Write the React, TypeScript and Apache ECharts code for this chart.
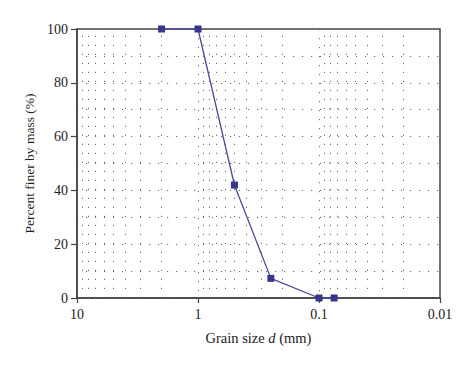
import React, { useEffect, useRef } from "react";
import * as echarts from "echarts";

const grainSize = [2, 1, 0.5, 0.25, 0.1, 0.075];
const percentFiner = [100, 100, 42, 7.3, 0, 0];
const xTickLabels = ["10", "1", "0.1", "0.01"];
const yTickLabels = ["0", "20", "40", "60", "80", "100"];
const minorGridX = [9, 8, 7, 6, 5, 4, 3, 2, 0.9, 0.8, 0.7, 0.6, 0.5, 0.4, 0.3, 0.2, 0.09, 0.08, 0.07, 0.06, 0.05, 0.04, 0.03, 0.02];

const FONT = "'Liberation Serif', 'DejaVu Serif', serif";

export default function App() {
  const ref = useRef<HTMLDivElement>(null);
  useEffect(() => {
    if (!ref.current) return;
    const chart = echarts.init(ref.current, null, { renderer: "svg" });
    const dotted = { color: "#6a6a6a", width: 1, type: [1.2, 7.8] as any };
    chart.setOption({
      animation: false,
      grid: {
        left: 77,
        right: 34,
        top: 29,
        bottom: 68,
        show: true,
        borderColor: "#444",
        borderWidth: 1.5,
        backgroundColor: "transparent",
      },
      xAxis: {
        type: "log",
        logBase: 10,
        min: 0.01,
        max: 10,
        inverse: true,
        name: "Grain size {i|d} (mm)",
        nameLocation: "middle",
        nameGap: 32,
        nameTextStyle: {
          fontFamily: FONT,
          fontSize: 14.5,
          color: "#222",
          rich: { i: { fontFamily: FONT, fontSize: 14.5, fontStyle: "italic", color: "#222" } },
        },
        axisLine: { show: true, lineStyle: { color: "#444", width: 1.5 } },
        axisTick: { show: true, inside: false, length: 5, lineStyle: { color: "#444", width: 1.2 } },
        axisLabel: {
          fontFamily: FONT,
          fontSize: 14,
          color: "#222",
          margin: 9,
          formatter: (v: number) => {
            const s = String(+v.toPrecision(3));
            return xTickLabels.includes(s) ? s : "";
          },
        },
        splitLine: { show: true, lineStyle: dotted },
        minorTick: { show: false },
      },
      yAxis: {
        type: "value",
        min: 0,
        max: 100,
        interval: 20,
        name: "Percent finer by mass (%)",
        nameLocation: "middle",
        nameGap: 41,
        nameTextStyle: { fontFamily: FONT, fontSize: 13.5, color: "#222" },
        axisLine: { show: true, lineStyle: { color: "#444", width: 1.5 } },
        axisTick: { show: true, inside: false, length: 6, lineStyle: { color: "#444", width: 1.2 } },
        axisLabel: {
          fontFamily: FONT,
          fontSize: 14,
          color: "#222",
          margin: 9,
          formatter: (v: number) => (yTickLabels.includes(String(v)) ? String(v) : ""),
        },
        splitLine: { show: true, lineStyle: dotted },
        minorTick: { show: false, splitNumber: 2 },
        minorSplitLine: { show: true, lineStyle: dotted },
      },
      series: [
        {
          type: "line",
          data: grainSize.map((g, i) => [g, percentFiner[i]]),
          symbol: "rect",
          symbolSize: 7,
          clip: false,
          z: 5,
          lineStyle: { color: "#4a4a98", width: 1.3 },
          itemStyle: { color: "#35358a" },
          markLine: {
            silent: true,
            symbol: ["none", "none"],
            label: { show: false },
            lineStyle: dotted,
            z: 1,
            data: minorGridX.map((v) => ({ xAxis: v })),
          },
        },
      ],
    });
    return () => chart.dispose();
  }, []);
  return <div ref={ref} style={{ position: "absolute", left: 0, top: 0, width: 474, height: 366 }} />;
}
